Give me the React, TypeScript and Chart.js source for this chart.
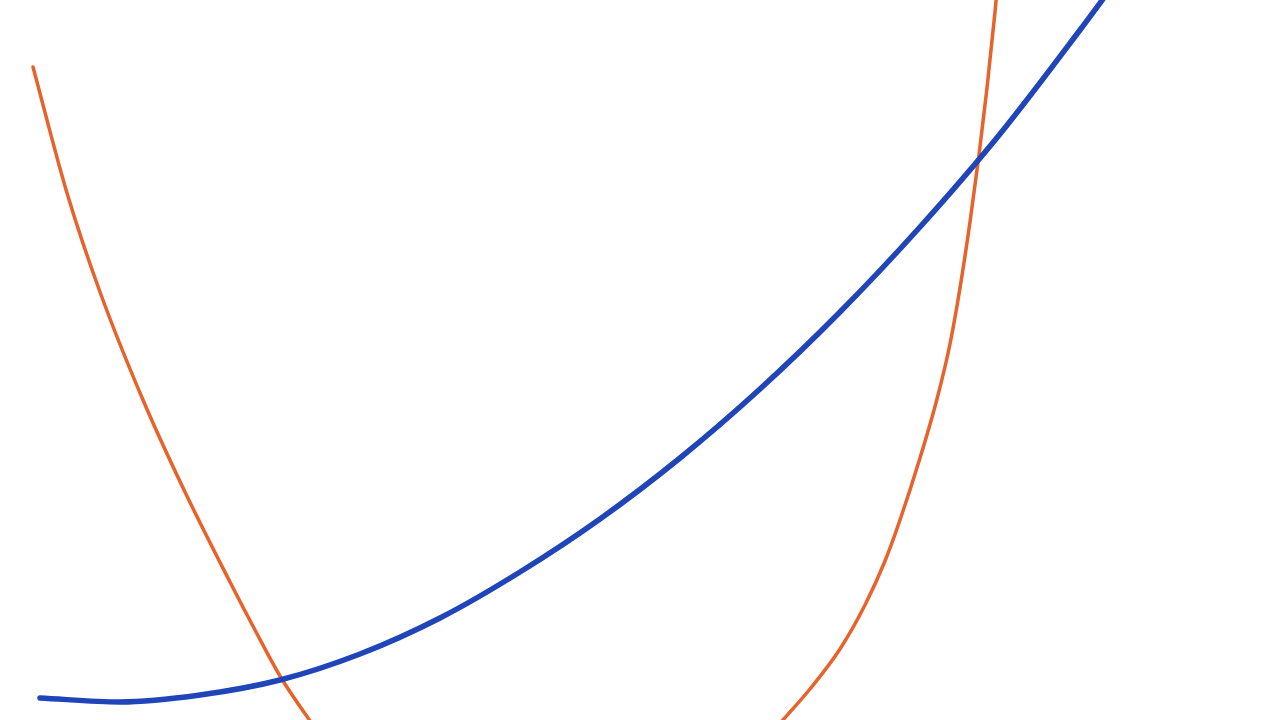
import React, { useEffect, useRef } from "react";
import { Chart, registerables } from "chart.js";

Chart.register(...registerables);

// values: x across (0..1280), y up from the bottom (0..720)
const blueX = [40, 120, 200, 280, 360, 440, 520, 600, 680, 760, 840, 920, 1000, 1080, 1120];
const blueY = [22, 18, 25, 40, 66, 102, 148, 201, 262, 331, 408, 493, 586, 690, 744];

const orangeLeftX = [33, 67, 100, 143, 185, 230, 255, 280, 308, 325];
const orangeLeftY = [653, 527, 428, 320, 228, 138, 90, 44, 2, -21];

const orangeRightX = [765, 783, 810, 840, 865, 885, 900, 920, 937, 950, 960, 970, 979, 987, 995, 999];
const orangeRightY = [-21, 0, 31, 71, 115, 159, 200, 262, 321, 376, 432, 498, 565, 632, 708, 750];

const toPoints = (xs: number[], ys: number[]) => xs.map((x, i) => ({ x, y: ys[i] }));

export default function App() {
    const canvasRef = useRef<HTMLCanvasElement | null>(null);

    useEffect(() => {
        if (!canvasRef.current) return;

        // the orange curve dips below the bottom edge between its two branches
        const orange = [
            ...toPoints(orangeLeftX, orangeLeftY),
            { x: 550, y: null as unknown as number },
            ...toPoints(orangeRightX, orangeRightY),
        ];

        const chart = new Chart(canvasRef.current, {
            type: "line",
            data: {
                datasets: [
                    {
                        label: "blue",
                        data: toPoints(blueX, blueY),
                        borderColor: "#1f45b9",
                        borderWidth: 5.5,
                        borderCapStyle: "round",
                        pointRadius: 0,
                        cubicInterpolationMode: "monotone",
                        fill: false,
                    },
                    {
                        label: "orange",
                        data: orange,
                        borderColor: "#e8622b",
                        borderWidth: 3.5,
                        borderCapStyle: "round",
                        pointRadius: 0,
                        spanGaps: false,
                        cubicInterpolationMode: "monotone",
                        fill: false,
                    },
                ],
            },
            options: {
                animation: false,
                responsive: true,
                maintainAspectRatio: false,
                layout: { padding: 0 },
                plugins: {
                    legend: { display: false },
                    tooltip: { enabled: false },
                },
                scales: {
                    x: { type: "linear", min: 0, max: 1280, display: false },
                    y: { type: "linear", min: 0, max: 720, display: false },
                },
            },
        });

        return () => chart.destroy();
    }, []);

    return (
        <div style={{ position: "fixed", left: 0, top: 0, width: 1280, height: 720, background: "#fff" }}>
            <canvas ref={canvasRef} />
        </div>
    );
}
